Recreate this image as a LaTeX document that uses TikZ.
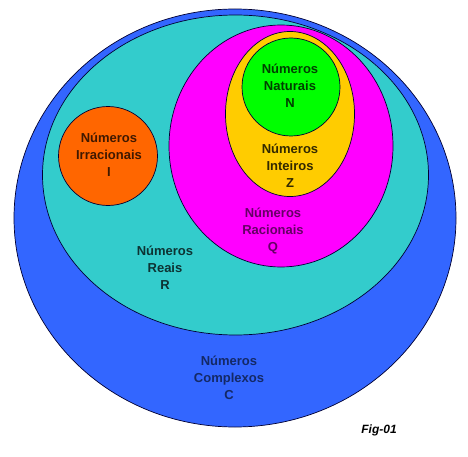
\documentclass[tikz,border=0pt]{standalone}
\usepackage{fontspec}
\setmainfont{Liberation Sans}
\usetikzlibrary{positioning}
\definecolor{cplx}{HTML}{3366FF}
\definecolor{reais}{HTML}{33CCCC}
\definecolor{racio}{HTML}{FF00FF}
\definecolor{intei}{HTML}{FFCC00}
\definecolor{natur}{HTML}{00FF00}
\definecolor{irrac}{HTML}{FF6600}
\tikzset{
  conj/.style={draw=black!80!blue,line width=0.7pt},
  rotulo/.style={font=\bfseries\fontsize{13}{17}\selectfont,align=center}
}

\begin{document}
\begin{tikzpicture}[x=1pt,y=1pt]
\useasboundingbox (0,0) rectangle (468,456);
% conjuntos
\filldraw[conj,fill=cplx] (235,238) ellipse [x radius=221,y radius=209];
\filldraw[conj,fill=reais] (235.5,281) ellipse [x radius=193,y radius=160];
\filldraw[conj,fill=racio] (281,310) ellipse [x radius=112,y radius=121];
\filldraw[conj,fill=intei] (290,342) ellipse [x radius=64.5,y radius=82.5];
\filldraw[conj,fill=natur] (291,369) circle [radius=49];
\filldraw[conj,fill=irrac] (108,300) circle [radius=49.5];
% rotulos
\node[rotulo,text=natur!25!black] (naturais) at (290,370) {Números\\Naturais\\N};
\node[rotulo,text=intei!20!black] (inteiros) at (290,290) {Números\\Inteiros\\Z};
\node[rotulo,text=racio!40!black] (racionais) at (273,225) {Números\\Racionais\\Q};
\node[rotulo,text=irrac!25!black] (irracionais) at (109,301) {Números\\Irracionais\\I};
\node[rotulo,text=reais!25!black] (reais) at (165,188) {Números\\Reais\\R};
\node[rotulo,text=cplx!40!black] (complexos) at (229,78) {Números\\Complexos\\C};
\node[font=\bfseries\itshape\fontsize{12}{14}\selectfont] (fig) at (379,26) {Fig-01};
\end{tikzpicture}
\end{document}
